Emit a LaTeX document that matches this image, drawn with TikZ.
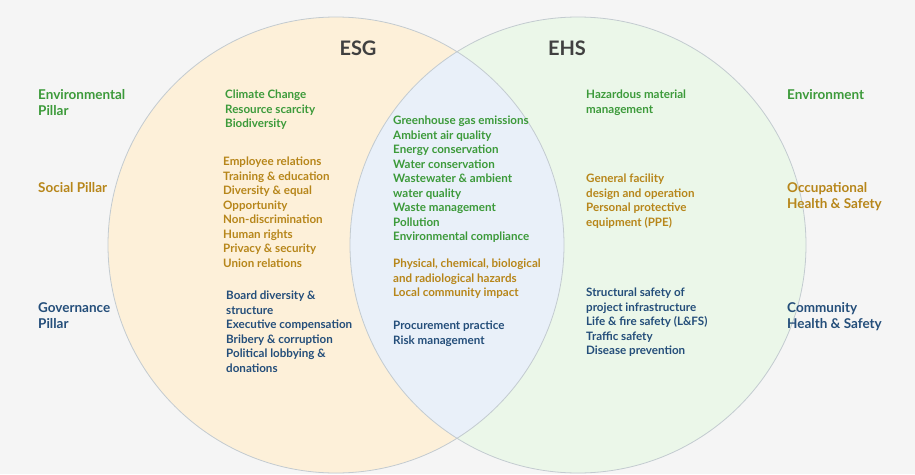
\documentclass[tikz,border=0pt]{standalone}
\usepackage{fontspec}
\setmainfont{Lato}
\definecolor{cg}{HTML}{3C9A3A}
\definecolor{co}{HTML}{B7861A}
\definecolor{cb}{HTML}{244E7A}
\definecolor{fo}{HTML}{FDF0D9}
\definecolor{fg}{HTML}{EBF7E9}
\definecolor{fb}{HTML}{E9F0F9}
\definecolor{bd}{HTML}{C3CBD0}
\begin{document}
\begin{tikzpicture}[x=1pt,y=-1pt,
 txt/.style={anchor=north west,align=left,font=\bfseries\fontsize{11.6}{14.5}\selectfont,inner sep=0pt},
 lbl/.style={anchor=north west,align=left,font=\bfseries\fontsize{13.5}{16}\selectfont,inner sep=0pt},
 ttl/.style={font=\fontsize{20}{22}\selectfont\bfseries,text=black!75}]
\fill[black!4] (0,0) rectangle (915,474);
\useasboundingbox (0,0) rectangle (915,474);
\fill[fo] (336,245) circle (228);
\fill[fg] (578,245) circle (228);
\begin{scope}\clip (336,245) circle (228); \fill[fb] (578,245) circle (228);\end{scope}
\draw[bd,line width=0.8] (336,245) circle (228) (578,245) circle (228);
\node[ttl] (esg) at (358,48) {ESG};
\node[ttl] (ehs) at (567,48) {EHS};
\node[lbl,text=cg] (l1) at (38,89) {Environmental\\Pillar};
\node[lbl,text=co] (l2) at (38,182) {Social Pillar};
\node[lbl,text=cb] (l3) at (38,302) {Governance\\Pillar};
\node[lbl,text=cg] (r1) at (787,89) {Environment};
\node[lbl,text=co] (r2) at (787,182) {Occupational\\Health \& Safety};
\node[lbl,text=cb] (r3) at (787,302) {Community\\Health \& Safety};
\node[txt,text=cg] (a1) at (225,90) {Climate Change\\Resource scarcity\\Biodiversity};
\node[txt,text=co] (a2) at (223,157) {Employee relations\\Training \& education\\Diversity \& equal\\Opportunity\\Non-discrimination\\Human rights\\Privacy \& security\\Union relations};
\node[txt,text=cb] (a3) at (226,291) {Board diversity \&\\structure\\Executive compensation\\Bribery \& corruption\\Political lobbying \&\\donations};
\node[txt,text=cg] (m1) at (393,116) {Greenhouse gas emissions\\Ambient air quality\\Energy conservation\\Water conservation\\Wastewater \& ambient\\water quality\\Waste management\\Pollution\\Environmental compliance};
\node[txt,text=co] (m2) at (393,259) {Physical, chemical, biological\\and radiological hazards\\Local community impact};
\node[txt,text=cb] (m3) at (393,321) {Procurement practice\\Risk management};
\node[txt,text=cg] (b1) at (586,90) {Hazardous material\\management};
\node[txt,text=co] (b2) at (586,174) {General facility\\design and operation\\Personal protective\\equipment (PPE)};
\node[txt,text=cb] (b3) at (586,288) {Structural safety of\\project infrastructure\\Life \& fire safety (L\&FS)\\Traffic safety\\Disease prevention};
\end{tikzpicture}
\end{document}
